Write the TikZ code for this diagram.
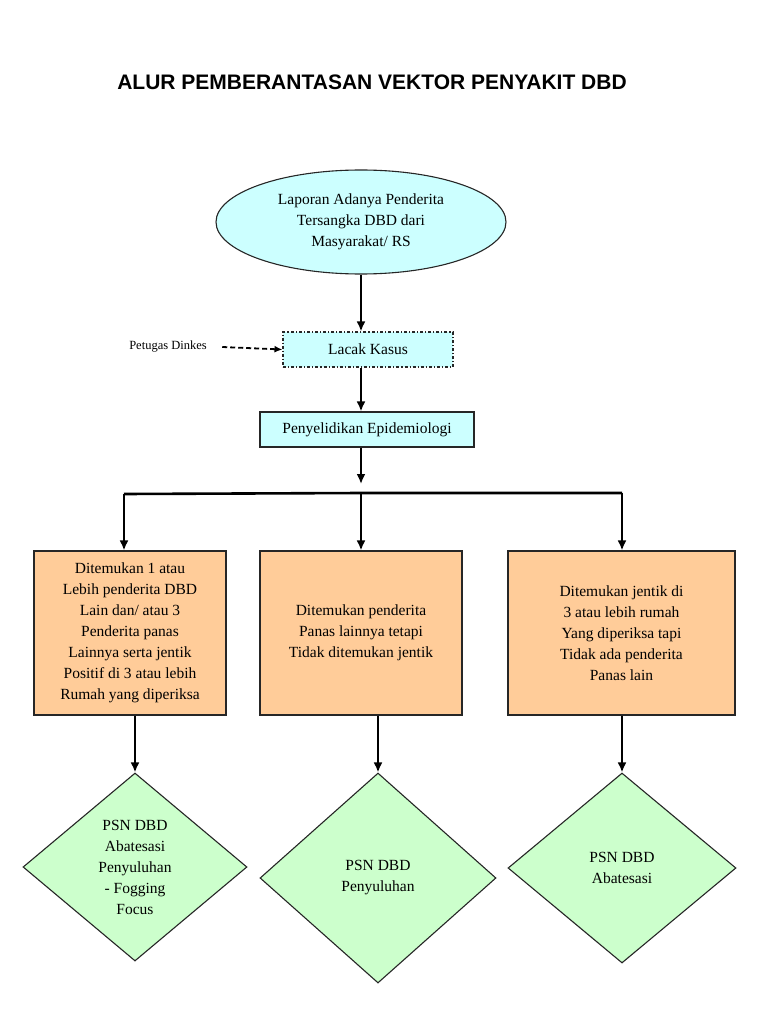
\documentclass[tikz,border=0pt]{standalone}
\usepackage{fontspec}
\setmainfont{Liberation Serif}
\newfontfamily\titlefont{Liberation Sans}
\usetikzlibrary{shapes.geometric,arrows.meta}
\definecolor{cyanf}{HTML}{CCFFFF}
\definecolor{peach}{HTML}{FFCC99}
\definecolor{greenf}{HTML}{CCFFCC}
\begin{document}
\begin{tikzpicture}[x=1pt,y=-1pt,
  txt/.style={font=\fontsize{15.5}{21}\selectfont,align=center},
  arr/.style={line width=2.6pt,-{Latex[length=10pt,width=9pt]}},
  box/.style={draw=black!85,line width=1.1pt,txt},
  dia/.style={diamond,draw=black!85,line width=1.1pt,fill=greenf,txt,inner sep=0pt}]
\useasboundingbox (0,0) rectangle (768,1024);
\node[font=\titlefont\bfseries\fontsize{21}{24}\selectfont] (title) at (372,82) {ALUR PEMBERANTASAN VEKTOR PENYAKIT DBD};
\node[ellipse,draw=black!85,line width=1.1pt,fill=cyanf,minimum width=290pt,minimum height=104pt,txt] (lap) at (361,222) {Laporan Adanya Penderita\\Tersangka DBD dari\\Masyarakat/ RS};
\node[box,fill=cyanf,dash dot,minimum width=170pt,minimum height=35pt] (lacak) at (368,349.5) {Lacak Kasus};
\node[font=\fontsize{12.5}{14}\selectfont] (pet) at (168,347) {Petugas Dinkes};
\node[box,fill=cyanf,minimum width=214pt,minimum height=35pt] (pen) at (367,429.5) {Penyelidikan Epidemiologi};
\node[box,fill=peach,minimum width=192pt,minimum height=164pt] (b1) at (130,633) {Ditemukan 1 atau\\Lebih penderita DBD\\Lain dan/ atau 3\\Penderita panas\\Lainnya serta jentik\\Positif di 3 atau lebih\\Rumah yang diperiksa};
\node[box,fill=peach,minimum width=202pt,minimum height=164pt] (b2) at (361,633) {Ditemukan penderita\\Panas lainnya tetapi\\Tidak ditemukan jentik};
\node[box,fill=peach,minimum width=227pt,minimum height=164pt] (b3) at (621.5,633) {Ditemukan jentik di\\3 atau lebih rumah\\Yang diperiksa tapi\\Tidak ada penderita\\Panas lain};
\node[dia,minimum width=224pt,minimum height=188pt] (d1) at (135,867) {PSN DBD\\Abatesasi\\Penyuluhan\\- Fogging\\Focus};
\node[dia,minimum width=236pt,minimum height=210pt] (d2) at (378,878) {PSN DBD\\Penyuluhan};
\node[dia,minimum width=228pt,minimum height=190pt] (d3) at (622,868) {PSN DBD\\Abatesasi};
\coordinate (hl) at (124,494); \coordinate (hm) at (361,493); \coordinate (hr) at (622,493);
\coordinate (pa) at (361,484);
\draw[arr] (lap.south) -- (lap.south |- lacak.north);
\draw[dashed,line width=1.8pt,dash pattern=on 5pt off 3pt,-{Latex[length=8pt,width=7pt]}] ([xshift=12pt]pet.east) -- (lacak.west);
\draw[arr] (lap.south |- lacak.south) -- (lap.south |- pen.north);
\draw[arr] (lap.south |- pen.south) -- (pa);
\draw[line width=2.6pt] (hl) -- (hm) -- (hr);
\draw[arr] (hl) -- (hl |- b1.north);
\draw[arr] (hm) -- (b2.north);
\draw[arr] (hr) -- (hr |- b3.north);
\draw[arr] (d1.north |- b1.south) -- (d1.north);
\draw[arr] (d2.north |- b2.south) -- (d2.north);
\draw[arr] (d3.north |- b3.south) -- (d3.north);
\end{tikzpicture}
\end{document}
